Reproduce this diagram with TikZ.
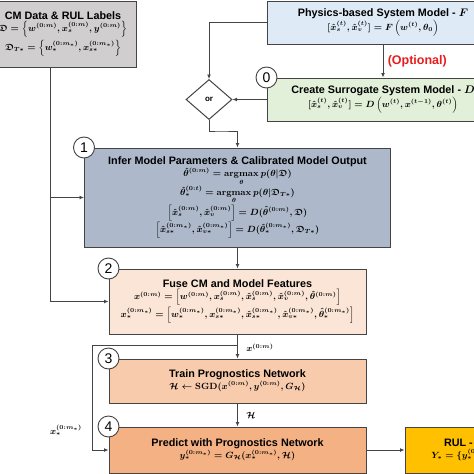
\documentclass[tikz,border=0pt]{standalone}
\usepackage[no-math]{fontspec}
\setmainfont{Liberation Sans}
\usepackage{amsmath,amssymb}
\usetikzlibrary{arrows.meta,shapes.geometric}
\definecolor{edgegray}{RGB}{68,68,68}
\definecolor{cmgray}{RGB}{208,206,206}
\definecolor{physblue}{RGB}{222,235,247}
\definecolor{surrgreen}{RGB}{226,240,217}
\definecolor{inferblue}{RGB}{173,185,202}
\definecolor{fusepeach}{RGB}{251,229,214}
\definecolor{trainpeach}{RGB}{248,203,173}
\definecolor{predorange}{RGB}{244,177,131}
\definecolor{rulgold}{RGB}{255,192,0}
\definecolor{optred}{RGB}{232,28,28}
\newcommand{\argmaxop}{\mathop{\mathrm{argmax}}\limits}
\newcommand{\boxtitle}[1]{\textbf{\fontsize{10.8}{12}\selectfont #1}}
\begin{document}
\begin{tikzpicture}[x=1pt,y=-1pt,
    >={Latex[length=4.5pt,width=4pt]},
    box/.style={draw=edgegray,line width=1pt,align=center,inner sep=0pt,
        font=\fontsize{9}{12}\selectfont\boldmath},
    num/.style={circle,draw=edgegray,fill=white,line width=0.9pt,inner sep=0pt,
        minimum size=21pt,font=\fontsize{14}{14}\selectfont},
    flow/.style={draw=edgegray,line width=0.9pt}]
    \useasboundingbox (0,0) rectangle (474,474);
    \clip (0,0) rectangle (474,474);
    % data and model boxes
    \node[box,fill=cmgray,minimum width=146pt,minimum height=66pt] (cm) at (63,34)
        {\boxtitle{CM Data \& RUL Labels}\\
        $\mathfrak{D}=\left\{w^{(0:m)},x_s^{(0:m)},y^{(0:m)}\right\}$\\[2pt]
        $\mathfrak{D}_{T*}=\left\{w_*^{(0:m_*)},x_{s*}^{(0:m_*)}\right\}$};
    \node[box,fill=physblue,minimum width=232pt,minimum height=43pt] (phys) at (383,22.5)
        {\boxtitle{Physics-based System Model - $F$}\\
        $[\hat{x}_s^{(t)},\hat{x}_v^{(t)}]=F\left(w^{(t)},\theta_0\right)$};
    \node[box,fill=surrgreen,minimum width=232pt,minimum height=43pt] (surr) at (383,99.5)
        {\boxtitle{Create Surrogate System Model - $D$}\\
        $[\hat{x}_s^{(t)},\hat{x}_v^{(t)}]=D\left(w^{(t)},x^{(t-1)},\theta^{(t)}\right)$};
    \node[diamond,draw=edgegray,fill=white,line width=1pt,inner sep=0pt,
        minimum width=46pt,minimum height=40pt,font=\bfseries\fontsize{8}{8}\selectfont] (or) at (209,99.5) {or};
    % steps 1 to 4
    \node[box,fill=inferblue,minimum width=306pt,minimum height=99pt] (infer) at (237.5,197.5)
        {\boxtitle{Infer Model Parameters \& Calibrated Model Output}\\
        $\hat{\theta}^{(0:m)}=\argmaxop_{\theta}p(\theta|\mathfrak{D})$\\
        $\hat{\theta}_*^{(0:t)}=\argmaxop_{\theta}p(\theta|\mathfrak{D}_{T*})$\\
        $\left[\hat{x}_s^{(0:m)},\hat{x}_v^{(0:m)}\right]=D(\hat{\theta}^{(0:m)},\mathfrak{D})$\\
        $\left[\hat{x}_{s*}^{(0:m_*)},\hat{x}_{v*}^{(0:m_*)}\right]=D(\hat{\theta}_*^{(0:m_*)},\mathfrak{D}_{T*})$};
    \node[box,fill=fusepeach,minimum width=257pt,minimum height=65pt] (fuse) at (237.5,301.5)
        {\boxtitle{Fuse CM and Model Features}\\
        $x^{(0:m)}=\left[w^{(0:m)},x_s^{(0:m)},\hat{x}_s^{(0:m)},\hat{x}_v^{(0:m)},\hat{\theta}^{(0:m)}\right]$\\
        $x_*^{(0:m_*)}=\left[w_*^{(0:m_*)},x_{s*}^{(0:m_*)},\hat{x}_{s*}^{(0:m_*)},\hat{x}_{v*}^{(0:m_*)},\hat{\theta}_*^{(0:m_*)}\right]$};
    \node[box,fill=trainpeach,minimum width=257pt,minimum height=44pt] (train) at (237.5,381)
        {\boxtitle{Train Prognostics Network}\\
        $\mathcal{H}\leftarrow\mathrm{SGD}(x^{(0:m)},y^{(0:m)},G_{\mathcal{H}})$};
    \node[box,fill=predorange,minimum width=257pt,minimum height=46pt] (pred) at (237.5,450)
        {\boxtitle{Predict with Prognostics Network}\\
        $y_*^{(0:m_*)}=G_{\mathcal{H}}(x_*^{(0:m_*)},\mathcal{H})$};
    \node[box,fill=rulgold,minimum width=120pt,minimum height=46pt] (rul) at (465,450)
        {\boxtitle{RUL - $Y$}\\
        $Y_*=\{y_*^{(0:m_*)}\}$};
    % step numbers
    \node[num] (n0) at (surr.north west) {0};
    \node[num] (n1) at (infer.north west) {1};
    \node[num] (n2) at (fuse.north west) {2};
    \node[num] (n3) at (train.north west) {3};
    \node[num] (n4) at (pred.north west) {4};
    % connectors
    \coordinate (trunk) at (50,0);
    \coordinate (bend) at (220,131);
    \coordinate (split) at (237.5,345);
    \coordinate (side) at (92,0);
    \draw[flow,->] (trunk |- cm.south) |- (fuse.west);
    \draw[flow,->] (trunk |- infer.west) -- (infer.west);
    \draw[flow,->] (phys.west) -| (or.north);
    \draw[flow,->] (surr.west) -- (or.east);
    \draw[flow,->] (phys.south) -- node[right=1pt,text=optred,font=\bfseries\fontsize{12.5}{13}\selectfont] {(Optional)} (surr.north);
    \draw[flow,->] (or.south) |- (bend) -| (infer.north);
    \draw[flow,->] (infer.south) -- (fuse.north);
    \draw[flow] (fuse.south) -- (split);
    \draw[flow,->] (split) -- node[right=5pt,pos=0.2,font=\fontsize{9}{11}\selectfont\boldmath] {$x^{(0:m)}$} (train.north);
    \draw[flow,->] (split) -| (side |- pred.west) -- (pred.west);
    \draw[flow,->] (train.south) -- node[right=5pt,font=\fontsize{9}{11}\selectfont\boldmath] {$\mathcal{H}$} (pred.north);
    \draw[flow,->] (pred.east) -- (rul.west);
    \node[font=\fontsize{9}{11}\selectfont\boldmath] (xstar) at (66,430) {$x_*^{(0:m_*)}$};
\end{tikzpicture}
\end{document}
